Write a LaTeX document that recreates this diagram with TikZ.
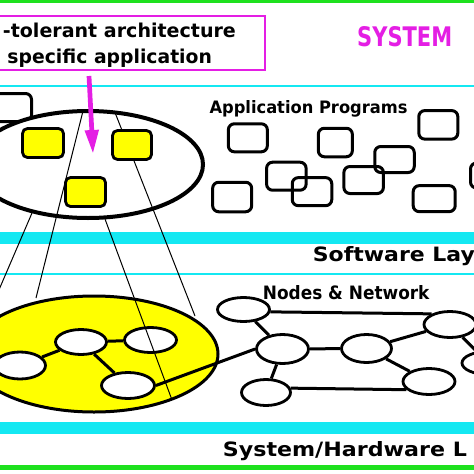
\documentclass[tikz,border=0pt]{standalone}
\usepackage{fontspec}
\setmainfont{DejaVu Sans}
\usetikzlibrary{shapes.geometric,arrows.meta}
\pgfdeclarelayer{back}
\pgfdeclarelayer{edges}
\pgfsetlayers{back,edges,main}
\definecolor{cyanb}{RGB}{20,232,242}
\definecolor{grn}{RGB}{30,225,30}
\definecolor{mag}{RGB}{228,30,228}
\definecolor{yel}{RGB}{255,255,0}
\tikzset{
  prog/.style={draw, line width=3pt, rounded corners=6pt, minimum width=39pt, minimum height=28pt, inner sep=0pt},
  ybox/.style={prog, fill=yel, line width=2.8pt, rounded corners=5pt},
  net/.style={ellipse, draw, fill=white, line width=2.8pt, inner sep=0pt},
  link/.style={line width=3pt},
  proj/.style={line width=1pt},
  lbl/.style={anchor=base west, inner sep=0pt, font=\bfseries},
  band/.style={cyanb, line width=#1},
}
\begin{document}
\begin{tikzpicture}[x=1pt,y=-1pt]
\useasboundingbox (0,0) rectangle (474,474);
\clip (0,0) rectangle (474,474);
\begin{pgfonlayer}{back}
  \fill[white] (0,0) rectangle (474,474);
  \fill[grn] (0,0) rectangle (474,2.8);
  \draw[grn, line width=5pt] (0,467.5) -- (474,467.5);
  \draw[band=2.5pt] (0,86) -- (474,86);
  \draw[band=12pt] (0,238) -- (474,238);
  \draw[band=2.5pt] (0,273.8) -- (474,273.8);
  \draw[band=12pt] (0,428.3) -- (474,428.3);
  \draw[mag, line width=2pt] (-5,16.3) rectangle (265,70);
  \node[prog] (P0) at (12,107.5) {};
  \node[ellipse, draw, fill=white, line width=4pt, minimum width=230pt, minimum height=107pt, inner sep=0pt] (U) at (88,164.5) {};
  \node[ellipse, draw, fill=yel, line width=3pt, minimum width=248pt, minimum height=116pt, inner sep=0pt] (Y) at (94,354) {};
\end{pgfonlayer}

% network nodes
\node[net, minimum width=51pt, minimum height=25pt] (N1) at (81,342) {};
\node[net, minimum width=52pt, minimum height=25pt] (N2) at (150.5,340) {};
\node[net, minimum width=51pt, minimum height=27pt] (N3) at (20,365.5) {};
\node[net, minimum width=53pt, minimum height=26pt] (N4) at (128,385.5) {};
\node[net, minimum width=52pt, minimum height=24pt] (R1) at (243.5,309.5) {};
\node[net, minimum width=52pt, minimum height=29pt] (R2) at (282.5,349) {};
\node[net, minimum width=49pt, minimum height=26pt] (R3) at (266,392.5) {};
\node[net, minimum width=50pt, minimum height=28pt] (R4) at (366.5,348.5) {};
\node[net, minimum width=52pt, minimum height=26pt] (R5) at (429,381.5) {};
\node[net, minimum width=52pt, minimum height=26pt] (R6) at (450,324.5) {};
\node[net, minimum width=52pt, minimum height=23pt] (R7) at (488,363) {};

\begin{pgfonlayer}{edges}
  \draw[link] (N3) -- (N1);
  \draw[link] (N1) -- (N2);
  \draw[link] (N1) -- (N4);
  \draw[link] (N4.east) -- (R2.west);
  \draw[link] (R1) -- (R2);
  \draw[link] (R2) -- (R3);
  \draw[link] (R2) -- (R4);
  \draw[link] (R3.10) -- (R5.-160);
  \draw[link] (R4) -- (R5);
  \draw[link] (R4) -- (R6);
  \draw[link] (R1.-5) -- (R6.150);
  \draw[link] (R6) -- (R7);
\end{pgfonlayer}

% projection lines
\coordinate (u1) at (32,213);   \coordinate (y1) at (-14,320);
\coordinate (u2) at (83,111);   \coordinate (y2) at (36,298);
\coordinate (u3) at (105,219);  \coordinate (y3) at (172,400);
\coordinate (u4) at (115,112.5);\coordinate (y4) at (195,316);
\draw[proj] (u1) -- (y1);
\draw[proj] (u2) -- (y2);
\draw[proj] (u3) -- (y3);
\draw[proj] (u4) -- (y4);

% yellow boxes
\node[ybox, minimum width=41pt, minimum height=29pt] (A) at (43,143) {};
\node[ybox, minimum width=39pt, minimum height=29pt] (B) at (132,145) {};
\node[ybox, minimum width=40pt, minimum height=29pt] (C) at (85.5,192) {};

% application program boxes
\node[prog] (P1) at (247.85,137.8) {};
\node[prog, minimum width=34pt, minimum height=28.5pt] (P2) at (335.35,142.5) {};
\node[prog, minimum height=28.5pt] (P3) at (438.3,124.85) {};
\node[prog, minimum width=39.5pt] (P4) at (286.35,176.2) {};
\node[prog, minimum width=39.5pt] (P5) at (312,191.65) {};
\node[prog, minimum width=39.5pt, minimum height=26pt] (P6) at (394.5,159.5) {};
\node[prog, minimum width=39.5pt, minimum height=27pt] (P7) at (363.65,180) {};
\node[prog, minimum height=29.5pt] (P8) at (232.15,197) {};
\node[prog, minimum width=42pt, minimum height=26pt] (P9) at (434.2,198.65) {};
\node[prog, minimum height=25pt] (P10) at (490,175.5) {};

% texts
\node[lbl] (t1) at (2.7,37.3) {\resizebox{233pt}{14.5pt}{-tolerant architecture}};
\node[lbl] (t2) at (7.3,63) {\resizebox{204.4pt}{14.5pt}{specific application}};
\node[lbl, text=mag] (sys) at (357,46) {\resizebox{95pt}{20pt}{SYSTEM}};
\node[lbl] (app) at (209.3,113.3) {\resizebox{198pt}{13pt}{Application Programs}};
\node[lbl] (sw) at (312.7,261) {\resizebox{162pt}{15pt}{Software Lay}};
\node[lbl] (nn) at (262.7,299.3) {\resizebox{166.6pt}{14pt}{Nodes \& Network}};
\node[lbl] (hw) at (222.7,456) {\resizebox{244pt}{15pt}{System/Hardware L}};

% arrow
\coordinate (as) at (89,76);
\coordinate (ae) at (93,154);
\draw[mag, line width=4.7pt, -{Triangle[width=13pt,length=24pt]}] (as) -- (ae);
\end{tikzpicture}
\end{document}
